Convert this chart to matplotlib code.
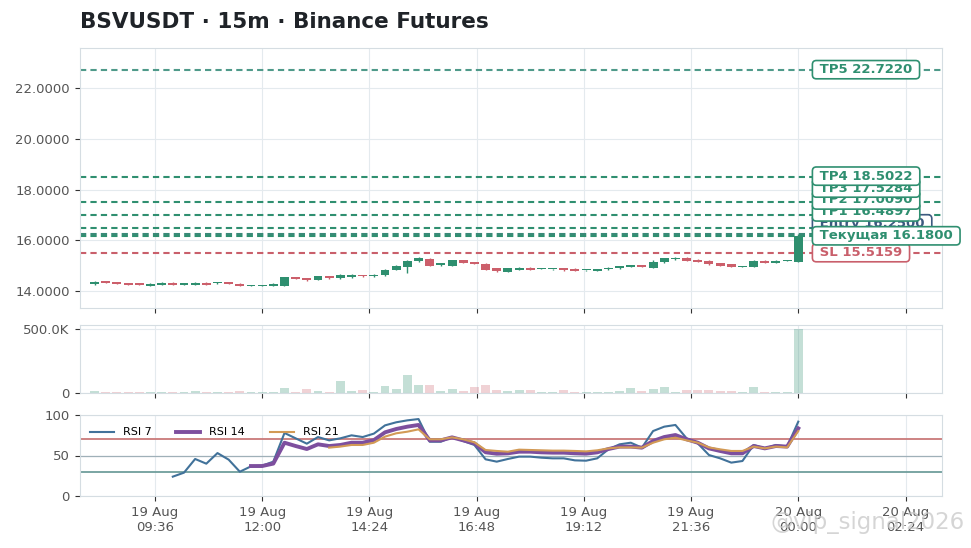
import numpy as np
import pandas as pd
import matplotlib
matplotlib.use("Agg")
import matplotlib.pyplot as plt
import matplotlib.dates as mdates
from matplotlib.ticker import FixedLocator, FuncFormatter

# ---------------- data ----------------
times = pd.date_range("2025-08-19 08:15", periods=64, freq="15min")

opens = [14.27, 14.36, 14.33, 14.32, 14.29, 14.21, 14.26, 14.34, 14.26, 14.26,
         14.34, 14.31, 14.33, 14.30, 14.20, 14.20, 14.22, 14.22, 14.56, 14.52,
         14.43, 14.59, 14.50, 14.57, 14.61, 14.58, 14.62, 14.85, 14.97, 15.17,
         15.28, 15.02, 15.01, 15.22, 15.13, 15.08, 14.90, 14.77, 14.85, 14.93,
         14.87, 14.86, 14.88, 14.89, 14.82, 14.80, 14.86, 14.90, 14.96, 14.99,
         14.93, 15.13, 15.25, 15.32, 15.24, 15.20, 15.11, 15.07, 14.95, 14.95,
         15.20, 15.12, 15.18, 15.15]
closes = [14.38, 14.33, 14.30, 14.26, 14.25, 14.30, 14.34, 14.26, 14.30, 14.34,
          14.26, 14.34, 14.30, 14.22, 14.24, 14.23, 14.30, 14.55, 14.47, 14.42,
          14.59, 14.50, 14.62, 14.61, 14.58, 14.65, 14.84, 15.01, 15.20, 15.29,
          15.01, 15.09, 15.22, 15.10, 15.06, 14.84, 14.79, 14.90, 14.93, 14.85,
          14.90, 14.88, 14.85, 14.81, 14.84, 14.88, 14.93, 14.98, 14.99, 14.96,
          15.16, 15.29, 15.32, 15.20, 15.15, 15.05, 15.01, 14.95, 15.00, 15.20,
          15.12, 15.20, 15.21, 16.18]
highs = [14.39, 14.37, 14.34, 14.33, 14.30, 14.31, 14.35, 14.35, 14.31, 14.35,
         14.35, 14.35, 14.34, 14.31, 14.25, 14.24, 14.31, 14.56, 14.57, 14.53,
         14.60, 14.60, 14.66, 14.66, 14.62, 14.66, 14.88, 15.02, 15.21, 15.35,
         15.29, 15.12, 15.23, 15.23, 15.14, 15.09, 14.91, 14.91, 14.94, 14.94,
         14.91, 14.89, 14.89, 14.90, 14.85, 14.89, 14.94, 14.99, 15.00, 15.00,
         15.23, 15.30, 15.33, 15.33, 15.25, 15.21, 15.12, 15.08, 15.01, 15.21,
         15.21, 15.21, 15.22, 16.26]
lows = [14.26, 14.32, 14.29, 14.25, 14.24, 14.20, 14.25, 14.25, 14.25, 14.25,
        14.25, 14.30, 14.29, 14.21, 14.19, 14.19, 14.21, 14.21, 14.46, 14.41,
        14.42, 14.49, 14.49, 14.53, 14.57, 14.57, 14.61, 14.84, 14.70, 15.16,
        15.00, 15.01, 15.00, 15.09, 15.05, 14.83, 14.74, 14.76, 14.84, 14.82,
        14.86, 14.85, 14.81, 14.80, 14.78, 14.79, 14.85, 14.89, 14.95, 14.95,
        14.92, 15.12, 15.24, 15.19, 15.14, 15.04, 15.00, 14.94, 14.94, 14.94,
        15.11, 15.11, 15.17, 15.14]
volumes_k = [16, 8, 8, 10, 8, 8, 7, 7, 5, 18,
             8, 7, 8, 16, 7, 5, 7, 40, 10, 29,
             18, 8, 95, 18, 26, 7, 55, 32, 142, 63,
             63, 16, 29, 16, 47, 63, 24, 13, 24, 24,
             7, 5, 24, 8, 4, 5, 7, 13, 37, 15,
             32, 47, 5, 24, 24, 24, 15, 15, 4, 47,
             7, 11, 11, 502]

nan = np.nan
rsi7 = [nan] * 7 + [23.9, 28.8, 45.7, 39.9, 53.0, 44.9, 30.0, 36.6, 37.4, 42.4,
                    77.8, 71.2, 64.6, 72.8, 68.7, 71.2, 74.9, 72.8, 77.0, 87.2,
                    91.0, 93.4, 95.0, 67.0, 67.0, 72.8, 67.9, 63.0, 45.3, 42.4,
                    45.7, 48.6, 48.6, 47.3, 46.5, 46.5, 44.0, 43.6, 46.5, 57.6,
                    63.8, 65.8, 59.7, 80.2, 85.6, 87.7, 71.2, 65.0, 50.6, 46.5,
                    41.2, 43.2, 63.0, 58.8, 63.0, 61.0, 91.8]
rsi14 = [nan] * 14 + [37.0, 37.0, 40.0, 65.8, 61.7, 58.0, 63.8, 61.7, 63.0, 65.8,
                      65.8, 69.0, 78.6, 82.7, 85.6, 87.7, 68.7, 68.7, 72.4, 68.7,
                      65.0, 54.0, 52.2, 52.7, 54.7, 54.7, 53.9, 53.5, 53.5, 52.7,
                      52.3, 53.9, 58.0, 61.0, 61.0, 59.7, 67.9, 72.8, 75.3, 70.0,
                      65.8, 58.8, 55.6, 52.7, 52.7, 61.7, 58.8, 61.7, 61.0, 83.5]
rsi21 = [nan] * 21 + [59.7, 61.0, 63.0, 63.0, 65.8, 73.3, 77.4, 79.4, 82.3, 70.0,
                      70.0, 72.4, 70.0, 66.3, 56.8, 55.6, 54.7, 57.2, 56.8, 56.4,
                      56.0, 56.0, 55.6, 55.1, 56.4, 58.8, 60.0, 60.0, 59.7, 65.8,
                      70.0, 72.0, 68.7, 65.8, 60.0, 57.6, 55.6, 55.6, 61.0, 58.8,
                      61.0, 60.0, 80.2]

level_names = ["SL", "Текущая", "Entry", "TP1", "TP2", "TP3", "TP4", "TP5"]
level_values = [15.5159, 16.1800, 16.2500, 16.4897, 17.0090, 17.5284, 18.5022, 22.7220]

tick_times = pd.date_range("2025-08-19 09:36", periods=8, freq="144min")
title = "BSVUSDT · 15m · Binance Futures"
watermark = "@vip_signal2026"

# ---------------- style ----------------
UP = "#2e8f6f"
DOWN = "#cc5f6b"
TPC = "#2f8f70"
SLC = "#c95f6b"
ENTRYC = "#3d5a80"
GRID = "#e4eaee"
SPINE = "#d5dde2"
TICKC = "#555555"

plt.rcParams["font.family"] = ["DejaVu Sans"]

W, H = 971, 548
fig = plt.figure(figsize=(W / 100, H / 100), dpi=100)


def rect(l, t, r, b):
    return [l / W, 1 - b / H, (r - l) / W, (b - t) / H]


ax = fig.add_axes(rect(79.5, 48, 942, 308))
axv = fig.add_axes(rect(79.5, 325, 942, 393), sharex=ax)
axr = fig.add_axes(rect(79.5, 415, 942, 496), sharex=ax)

x = mdates.date2num(times.to_pydatetime())
o = np.array(opens); c = np.array(closes)
hi = np.array(highs); lo = np.array(lows)
up = c >= o
cols = np.where(up, UP, DOWN)
step = 15 / 1440
w = 0.8 * step

for a in (ax, axv, axr):
    a.set_facecolor("white")
    a.grid(True, color=GRID, lw=0.8)
    a.set_axisbelow(True)
    for s in a.spines.values():
        s.set_color(SPINE)
        s.set_linewidth(0.8)
    a.tick_params(colors="#333333", labelcolor=TICKC, labelsize=9.5, length=3.5, width=0.8)

# candles
ax.vlines(x, lo, hi, color=cols, lw=1.0, zorder=3)
body = np.maximum(np.abs(c - o), 0.06)
ax.bar(x, body, bottom=np.minimum(o, c), width=w, color=cols, zorder=4, linewidth=0)

# levels
dash = (0, (3, 2))
ax.axhline(level_values[0], color=SLC, ls=dash, lw=1.5, zorder=2)
ax.axhline(level_values[2], color="#3a8a78", ls=dash, lw=1.5, zorder=2)
ax.axhline(level_values[1], color=TPC, ls=dash, lw=1.5, zorder=2)
for v in level_values[3:7]:
    ax.axhline(v, color=TPC, ls=dash, lw=1.5, zorder=2)
ax.axhline(level_values[7], color="#4f9a8a", ls=dash, lw=1.5, zorder=2)

# labels stacked upward to avoid overlap
label_gap = 0.47
lab_x = x[-1] + 22.5 / 1440
prev = -np.inf
label_y = []
for v in level_values:
    yv = max(v, prev + label_gap)
    label_y.append(yv)
    prev = yv
zorders = {"SL": 10, "Entry": 11, "Текущая": 20, "TP1": 12, "TP2": 13, "TP3": 14, "TP4": 15, "TP5": 16}
for name, v, yv in zip(level_names, level_values, label_y):
    if name == "SL":
        col = SLC
    elif name == "Entry":
        col = ENTRYC
    else:
        col = TPC
    ax.text(lab_x, yv, f" {name} {v:.4f} ", ha="left", va="center", fontsize=9.5,
            fontweight="bold", color=col, zorder=zorders[name],
            bbox=dict(boxstyle="round,pad=0.2,rounding_size=0.3", fc="white", ec=col, lw=1.2))

lo_all = min(min(lows), level_values[0])
hi_all = max(max(highs), level_values[-1])
rng = hi_all - lo_all
ax.set_ylim(lo_all - 0.1 * rng, hi_all + 0.1 * rng)
ax.yaxis.set_major_locator(FixedLocator([14, 16, 18, 20, 22]))
ax.yaxis.set_major_formatter(FuncFormatter(lambda v, p: f"{v:.4f}"))

# volume
axv.bar(x, volumes_k, width=w, color=cols, alpha=0.28, linewidth=0)
axv.set_ylim(0, max(volumes_k) * 1.065)
axv.yaxis.set_major_locator(FixedLocator([0, 500]))
axv.yaxis.set_major_formatter(FuncFormatter(lambda v, p: "0" if v == 0 else f"{v:.1f}K"))

# RSI
axr.axhline(70, color="#c97a7a", lw=1.3, zorder=1)
axr.axhline(50, color="#9fb0b8", lw=0.9, zorder=1)
axr.axhline(30, color="#6f9e9c", lw=1.3, zorder=1)
axr.plot(x, rsi7, color="#41729a", lw=1.5, label="RSI 7", zorder=3)
axr.plot(x, rsi14, color="#7d4f9e", lw=2.8, label="RSI 14", zorder=4)
axr.plot(x, rsi21, color="#d29a55", lw=1.5, label="RSI 21", zorder=5)
axr.set_ylim(0, 100)
axr.yaxis.set_major_locator(FixedLocator([0, 50, 100]))
leg = axr.legend(loc="upper left", ncol=3, frameon=False, fontsize=8,
                 handlelength=2.2, handletextpad=0.8, columnspacing=2.2,
                 bbox_to_anchor=(0.0, 0.97))

# x axis
ax.set_xlim(x[0] - 20.3 / 1440, x[-1] + 193 / 1440)
axr.xaxis.set_major_locator(FixedLocator(mdates.date2num(tick_times.to_pydatetime())))
axr.xaxis.set_major_formatter(mdates.DateFormatter("%d %b\n%H:%M"))
plt.setp(ax.get_xticklabels(), visible=False)
plt.setp(axv.get_xticklabels(), visible=False)

fig.text(80 / W, 1 - 28.5 / H, title, fontsize=15.5, fontweight="bold", color="#1f2328",
         ha="left", va="baseline")
fig.text(770 / W, 1 - 522 / H, watermark, fontsize=16.5, color="#c8c8c8", alpha=0.75,
         ha="left", va="center")

fig.savefig("out.png", dpi=100, facecolor="white")
